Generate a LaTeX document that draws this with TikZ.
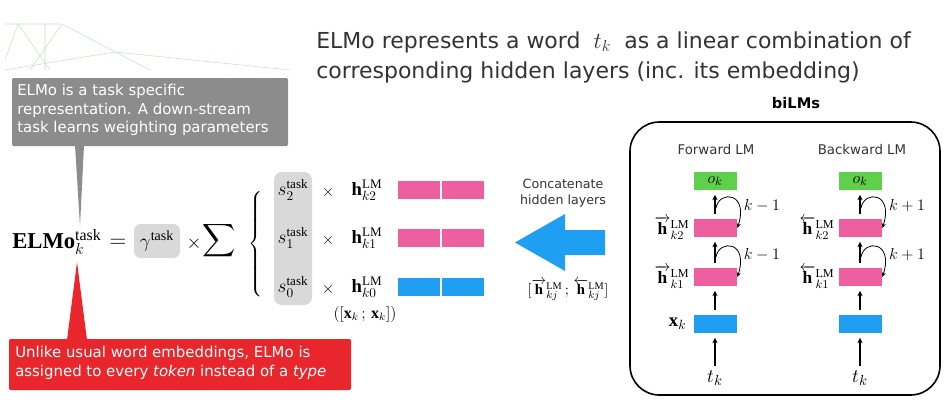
\documentclass[tikz,border=0pt]{standalone}
\usepackage{amsmath}
\usepackage{fontspec}
\setmainfont{Liberation Serif}
\newfontfamily\sansf{DejaVu Sans}
\usetikzlibrary{arrows.meta}
\definecolor{pinkbar}{HTML}{EE5FA0}
\definecolor{bluebar}{HTML}{1E9FF2}
\definecolor{greenbar}{HTML}{5FD04A}
\definecolor{calloutgray}{HTML}{8C8C8C}
\definecolor{calloutred}{HTML}{E8262B}
\definecolor{boxgray}{HTML}{D9D9D9}
\definecolor{titlegray}{HTML}{333333}
\tikzset{
  bar/.style={minimum width=44*0.75pt, minimum height=19*0.75pt, inner sep=0pt, draw=white, line width=0.6pt},
  cellbox/.style={minimum width=43*0.75pt, minimum height=19*0.75pt, inner sep=0pt, draw=white, line width=0.5pt},
  up/.style={-{Stealth[length=4pt,width=4pt]}, line width=1.1pt},
  loop/.style={-{Stealth[length=3.5pt,width=3pt]}, line width=0.6pt},
  mathlbl/.style={font=\fontsize{11}{12}\selectfont, inner sep=1pt},
  sans/.style={text=titlegray},
  calltext/.style={anchor=north west, text=white, align=left, inner sep=0pt, font=\sansf\fontsize{11.2}{14}\selectfont}
}
\begin{document}
\begin{tikzpicture}[x=0.75pt,y=-0.75pt]
\useasboundingbox (0,0) rectangle (951,411);
% faint decoration
\begin{scope}[draw=green!40!gray!35, line width=0.4pt]
\draw (5,24) -- (60,24) (18,24) -- (5,60) (18,24) -- (50,70) (45,24) -- (45,70) (62,24) -- (30,70) (62,24) -- (150,70) (5,70) -- (115,52) -- (290,70);
\end{scope}
% title
\node[sans, anchor=west, inner sep=0pt, font=\sansf\fontsize{16.5}{19}\selectfont] (title1) at (316,42) {ELMo represents a word \;$t_k$\; as a linear combination of};
\node[sans, anchor=west, inner sep=0pt, font=\sansf\fontsize{16.5}{19}\selectfont] (title2) at (316,72) {corresponding hidden layers (inc. its embedding)};
% gray callout
\fill[calloutgray] (75,145) -- (84,145) -- (80,226) -- cycle;
\fill[calloutgray, rounded corners=1pt] (12,78) rectangle (288,146);
\node[calltext] (gcall) at (17,84) {ELMo is a task specific\\representation. A down-stream\\task learns weighting parameters};
% red callout
\fill[calloutred] (67,340) -- (87,340) -- (77,262) -- cycle;
\fill[calloutred, rounded corners=1pt] (9,339) rectangle (351,390);
\node[calltext] (rcall) at (15,346) {Unlike usual word embeddings, ELMo is\\assigned to every \textit{token} instead of a \textit{type}};
% formula
\node[anchor=west, inner sep=0pt, font=\fontsize{17}{20}\selectfont] (elmo) at (12,242) {$\mathbf{ELMo}_k^{\mathrm{task}}$};
\node[font=\fontsize{18}{20}\selectfont] (eq) at (118,243) {$=$};
\node[fill=boxgray, rounded corners=5pt, minimum width=46*0.75pt, minimum height=34*0.75pt, font=\fontsize{15}{16}\selectfont] (gamma) at (157,241) {$\gamma^{\mathrm{task}}$};
\node[font=\fontsize{14}{16}\selectfont] (times0) at (194,244) {$\times$};
\node[font=\fontsize{17}{20}\selectfont] (sigma) at (219,241) {$\displaystyle\sum$};
\node[font=\fontsize{12}{12}\selectfont] (brace) at (256,243) {$\left\{\rule{0pt}{44pt}\right.$};
\node[fill=boxgray, rounded corners=6pt, minimum width=38*0.75pt, minimum height=133*0.75pt] (scol) at (293,238.5) {};
\foreach \i/\y/\c in {2/190/pinkbar,1/238/pinkbar,0/287/bluebar}{
  \node[inner sep=0pt, font=\fontsize{14}{15}\selectfont] (s\i) at (293,\y) {$s_{\i}^{\mathrm{task}}$};
  \node[inner sep=0pt, font=\fontsize{13}{14}\selectfont] (x\i) at (328,\y+2) {$\times$};
  \node[inner sep=0pt, font=\fontsize{14}{15}\selectfont] (h\i) at (367,\y) {$\mathbf{h}_{k\i}^{\mathrm{LM}}$};
  \node[cellbox, fill=\c] (ba\i) at (419,\y) {};
  \node[cellbox, fill=\c] (bb\i) at (463,\y) {};
}
\node[font=\fontsize{12}{13}\selectfont] (xx) at (365,314) {$([\mathbf{x}_k\,;\,\mathbf{x}_k])$};
% concatenate
\node[sans, align=center, font=\sansf\fontsize{9.5}{11.5}\selectfont] (concat) at (563,193) {Concatenate\\hidden layers};
\fill[bluebar] (605,230) -- (565,230) -- (565,214) -- (515,242.5) -- (565,271) -- (565,255) -- (605,255) -- cycle;
\node[font=\fontsize{11}{12}\selectfont] (hcat) at (568,290) {$[\overrightarrow{\mathbf{h}}_{kj}^{\mathrm{LM}}\,;\,\overleftarrow{\mathbf{h}}_{kj}^{\mathrm{LM}}]$};
% biLMs
\node[font=\sansf\bfseries\fontsize{11}{13}\selectfont] (bilms) at (796,103) {biLMs};
\draw[line width=1.2pt, rounded corners=22pt] (630,122) rectangle (940,395);
\node[sans, font=\sansf\fontsize{10}{12}\selectfont] (fwd) at (716,150) {Forward LM};
\node[sans, font=\sansf\fontsize{10}{12}\selectfont] (bwd) at (862,150) {Backward LM};
\foreach \n/\cx/\dir/\pm in {f/715/\overrightarrow/-,b/860/\overleftarrow/+}{
  \node[bar, fill=greenbar, font=\fontsize{13}{14}\selectfont] (o\n) at (\cx,181) {$o_k$};
  \node[bar, fill=pinkbar] (h2\n) at (\cx,228) {};
  \node[bar, fill=pinkbar] (h1\n) at (\cx,277) {};
  \node[bar, fill=bluebar] (x\n) at (\cx,324) {};
  \node[font=\fontsize{15}{16}\selectfont] (t\n) at (\cx,378) {$t_k$};
  \node[anchor=east, font=\fontsize{13}{14}\selectfont, inner sep=1pt] (lh2\n) at (\cx-24,228) {$\dir{\mathbf{h}}_{k2}^{\mathrm{LM}}$};
  \node[anchor=east, font=\fontsize{13}{14}\selectfont, inner sep=1pt] (lh1\n) at (\cx-24,277) {$\dir{\mathbf{h}}_{k1}^{\mathrm{LM}}$};
  \draw[up] (t\n.north) -- ([yshift=-3pt]x\n.south);
  \draw[up] ([yshift=3pt]x\n.north) -- ([yshift=-3pt]h1\n.south);
  \draw[up] ([yshift=3pt]h1\n.north) -- ([yshift=-3pt]h2\n.south);
  \draw[up] ([yshift=3pt]h2\n.north) -- ([yshift=-3pt]o\n.south);
  \draw[loop] (\cx+1,208) .. controls (\cx+4,190) and (\cx+34,192) .. (h2\n.east);
  \draw[loop] (\cx+1,257) .. controls (\cx+4,239) and (\cx+34,241) .. (h1\n.east);
  \node[mathlbl, font=\fontsize{12}{13}\selectfont] (k2\n) at (\cx+47,206) {$k\pm1$};
  \node[mathlbl, font=\fontsize{12}{13}\selectfont] (k1\n) at (\cx+47,255) {$k\pm1$};
}
\node[anchor=east, font=\fontsize{14}{15}\selectfont] (lx) at (691,324) {$\mathbf{x}_k$};
\end{tikzpicture}
\end{document}
